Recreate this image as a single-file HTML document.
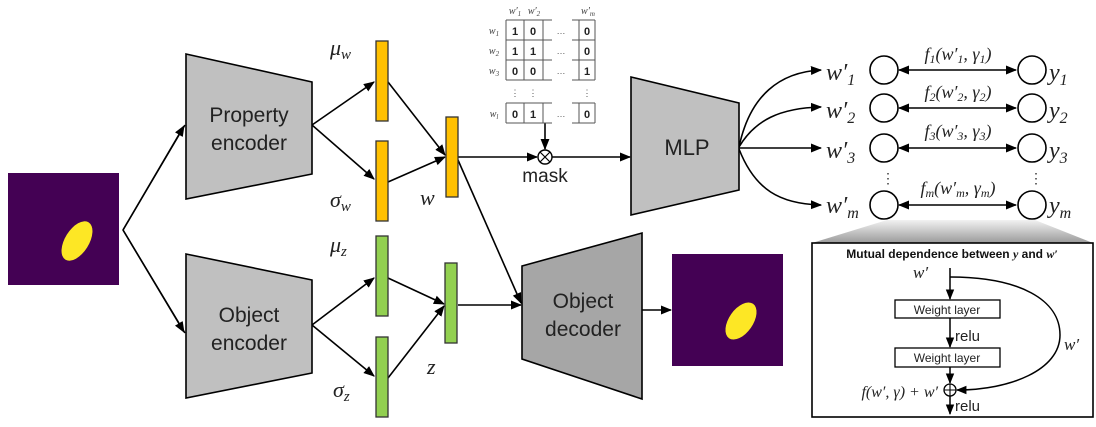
<!DOCTYPE html>
<html><head><meta charset="utf-8"><style>
html,body{margin:0;padding:0;background:#fff;}
svg{display:block;}
.s{font-family:"Liberation Sans",sans-serif;}
.m{font-family:"Liberation Serif",serif;font-style:italic;}
</style></head><body>
<svg width="1096" height="427" viewBox="0 0 1096 427" xmlns="http://www.w3.org/2000/svg">
<defs>
<marker id="a" viewBox="0 0 10 10" refX="9" refY="5" markerWidth="7" markerHeight="7" orient="auto-start-reverse"><path d="M0,1 L10,5 L0,9 z" fill="#000"/></marker>
<linearGradient id="g" x1="0" y1="0" x2="0" y2="1"><stop offset="0" stop-color="#f2f2f2"/><stop offset="1" stop-color="#9a9a9a"/></linearGradient>
</defs>
<g stroke="#000" stroke-width="1.6" fill="none">
<!-- input image arrows -->
<polyline points="185,125 123,230 185,333" stroke-width="1.4"/>
<line x1="123" y1="230" x2="184" y2="126" marker-end="url(#a)"/>
<line x1="123" y1="230" x2="184" y2="332" marker-end="url(#a)"/>
<!-- encoders to bars -->
<line x1="312" y1="125" x2="374" y2="82" marker-end="url(#a)"/>
<line x1="312" y1="125" x2="374" y2="179" marker-end="url(#a)"/>
<line x1="388" y1="82" x2="445" y2="155" marker-end="url(#a)"/>
<line x1="388" y1="182" x2="445" y2="157" marker-end="url(#a)"/>
<line x1="312" y1="325" x2="374" y2="278" marker-end="url(#a)"/>
<line x1="312" y1="325" x2="374" y2="376" marker-end="url(#a)"/>
<line x1="388" y1="278" x2="444" y2="304" marker-end="url(#a)"/>
<line x1="388" y1="378" x2="444" y2="306" marker-end="url(#a)"/>
<!-- w to mask, mlp -->
<line x1="458" y1="157" x2="537" y2="157" marker-end="url(#a)"/>
<line x1="552" y1="157" x2="630" y2="157" marker-end="url(#a)"/>
<line x1="545" y1="123" x2="545" y2="149" marker-end="url(#a)"/>
<line x1="458" y1="160" x2="521" y2="303" marker-end="url(#a)"/>
<line x1="458" y1="305" x2="521" y2="305" marker-end="url(#a)"/>
<line x1="642" y1="310" x2="671" y2="310" marker-end="url(#a)"/>
<!-- MLP curves -->
<path d="M739,147 C750,95 780,72 821,70" marker-end="url(#a)"/>
<path d="M739,147 C755,120 780,108 821,107" marker-end="url(#a)"/>
<line x1="739" y1="148" x2="821" y2="148" marker-end="url(#a)"/>
<path d="M739,149 C755,190 780,204 821,205" marker-end="url(#a)"/>
<!-- double arrows -->
<line x1="899" y1="70" x2="1016" y2="70" marker-start="url(#a)" marker-end="url(#a)"/>
<line x1="899" y1="108" x2="1016" y2="108" marker-start="url(#a)" marker-end="url(#a)"/>
<line x1="899" y1="148" x2="1016" y2="148" marker-start="url(#a)" marker-end="url(#a)"/>
<line x1="899" y1="205" x2="1016" y2="205" marker-start="url(#a)" marker-end="url(#a)"/>
</g>
<!-- input image -->
<rect x="8" y="173" width="111" height="112" fill="#440154"/>
<ellipse cx="77" cy="241" rx="22" ry="12" transform="rotate(-58 77 241)" fill="#fde725"/>
<!-- encoders -->
<polygon points="186,54 312,82 312,174 186,199" fill="#c0c0c0" stroke="#000" stroke-width="1.6"/>
<text x="249" y="122" class="s" font-size="21" text-anchor="middle" fill="#222">Property</text>
<text x="249" y="150" class="s" font-size="21" text-anchor="middle" fill="#222">encoder</text>
<polygon points="186,254 312,280 312,373 186,398" fill="#c0c0c0" stroke="#000" stroke-width="1.6"/>
<text x="249" y="322" class="s" font-size="21" text-anchor="middle" fill="#222">Object</text>
<text x="249" y="350" class="s" font-size="21" text-anchor="middle" fill="#222">encoder</text>
<!-- bars -->
<g stroke="#333" stroke-width="1.3">
<rect x="376" y="41" width="12" height="80" fill="#ffc000"/>
<rect x="376" y="141" width="12" height="80" fill="#ffc000"/>
<rect x="446" y="117" width="12" height="80" fill="#ffc000"/>
<rect x="376" y="236" width="12" height="80" fill="#92d050"/>
<rect x="376" y="337" width="12" height="80" fill="#92d050"/>
<rect x="445" y="263" width="12" height="80" fill="#92d050"/>
</g>
<g class="m" font-size="22" fill="#222">
<text x="330" y="55">μ<tspan font-size="15" dy="4">w</tspan></text>
<text x="330" y="207">σ<tspan font-size="15" dy="4">w</tspan></text>
<text x="420" y="205">w</text>
<text x="330" y="252">μ<tspan font-size="15" dy="4">z</tspan></text>
<text x="333" y="397">σ<tspan font-size="15" dy="4">z</tspan></text>
<text x="427" y="374">z</text>
</g>
<!-- matrix -->
<g stroke="#555" stroke-width="1" fill="none">
<path d="M506,20 H552 M572,20 H595 M506,40 H552 M572,40 H595 M506,60 H552 M572,60 H595 M506,80 H552 M572,80 H595"/>
<path d="M506,20 V80 M524,20 V80 M543,20 V80 M579,20 V80 M595,20 V80"/>
<path d="M506,103 H552 M572,103 H595 M506,123 H552 M572,123 H595 M506,103 V123 M524,103 V123 M543,103 V123 M579,103 V123 M595,103 V123"/>
</g>
<g class="s" font-size="11" font-weight="bold" fill="#222" text-anchor="middle">
<text x="515" y="35">1</text><text x="533" y="35">0</text><text x="587" y="35">0</text>
<text x="515" y="55">1</text><text x="533" y="55">1</text><text x="587" y="55">0</text>
<text x="515" y="75">0</text><text x="533" y="75">0</text><text x="587" y="75">1</text>
<text x="515" y="118">0</text><text x="533" y="118">1</text><text x="587" y="118">0</text>
</g>
<g class="s" font-size="9" fill="#555" text-anchor="middle">
<text x="561" y="34">…</text><text x="561" y="54">…</text><text x="561" y="74">…</text><text x="561" y="117">…</text>
<text x="515" y="96">⋮</text><text x="533" y="96">⋮</text><text x="587" y="96">⋮</text>
</g>
<g class="m" font-size="10" fill="#444" text-anchor="middle">
<text x="515" y="14">w′<tspan font-size="7" dy="2">1</tspan></text>
<text x="534" y="14">w′<tspan font-size="7" dy="2">2</tspan></text>
<text x="588" y="14">w′<tspan font-size="7" dy="2">m</tspan></text>
<text x="494" y="34">w<tspan font-size="7" dy="2">1</tspan></text>
<text x="494" y="54">w<tspan font-size="7" dy="2">2</tspan></text>
<text x="494" y="74">w<tspan font-size="7" dy="2">3</tspan></text>
<text x="494" y="117">w<tspan font-size="7" dy="2">l</tspan></text>
</g>
<circle cx="545" cy="157" r="7" fill="#fff" stroke="#000" stroke-width="1.4"/>
<path d="M540,152 L550,162 M550,152 L540,162" stroke="#000" stroke-width="1.2"/>
<text x="545" y="182" class="s" font-size="19" text-anchor="middle" fill="#222">mask</text>
<!-- MLP -->
<polygon points="631,77 739,103 739,190 631,215" fill="#c0c0c0" stroke="#000" stroke-width="1.6"/>
<text x="687" y="155" class="s" font-size="22" text-anchor="middle" fill="#222">MLP</text>
<!-- decoder -->
<polygon points="522,266 642,233 642,399 522,359" fill="#a6a6a6" stroke="#000" stroke-width="1.6"/>
<text x="583" y="308" class="s" font-size="21" text-anchor="middle" fill="#222">Object</text>
<text x="583" y="336" class="s" font-size="21" text-anchor="middle" fill="#222">decoder</text>
<!-- output image -->
<rect x="672" y="254" width="111" height="112" fill="#440154"/>
<ellipse cx="741" cy="321" rx="21" ry="12" transform="rotate(-55 741 321)" fill="#fde725"/>
<!-- circles -->
<g fill="#fff" stroke="#000" stroke-width="1.6">
<circle cx="884" cy="70" r="14"/><circle cx="884" cy="108" r="14"/><circle cx="884" cy="148" r="14"/><circle cx="884" cy="205" r="14"/>
<circle cx="1032" cy="70" r="14"/><circle cx="1032" cy="108" r="14"/><circle cx="1032" cy="148" r="14"/><circle cx="1032" cy="205" r="14"/>
</g>
<g class="m" font-size="24" fill="#222">
<text x="826" y="80">w′<tspan font-size="16" dy="5">1</tspan></text>
<text x="826" y="118">w′<tspan font-size="16" dy="5">2</tspan></text>
<text x="826" y="158">w′<tspan font-size="16" dy="5">3</tspan></text>
<text x="826" y="213">w′<tspan font-size="16" dy="5">m</tspan></text>
<text x="1049" y="80">y<tspan font-size="16" dy="5">1</tspan></text>
<text x="1049" y="118">y<tspan font-size="16" dy="5">2</tspan></text>
<text x="1049" y="158">y<tspan font-size="16" dy="5">3</tspan></text>
<text x="1049" y="213">y<tspan font-size="16" dy="5">m</tspan></text>
</g>
<g class="m" font-size="18" fill="#222" text-anchor="middle">
<text x="958" y="60">f<tspan font-size="12" dy="3">1</tspan><tspan dy="-3">(w′</tspan><tspan font-size="12" dy="3">1</tspan><tspan dy="-3">, γ</tspan><tspan font-size="12" dy="3">1</tspan><tspan dy="-3">)</tspan></text>
<text x="958" y="98">f<tspan font-size="12" dy="3">2</tspan><tspan dy="-3">(w′</tspan><tspan font-size="12" dy="3">2</tspan><tspan dy="-3">, γ</tspan><tspan font-size="12" dy="3">2</tspan><tspan dy="-3">)</tspan></text>
<text x="958" y="137">f<tspan font-size="12" dy="3">3</tspan><tspan dy="-3">(w′</tspan><tspan font-size="12" dy="3">3</tspan><tspan dy="-3">, γ</tspan><tspan font-size="12" dy="3">3</tspan><tspan dy="-3">)</tspan></text>
<text x="958" y="194">f<tspan font-size="12" dy="3">m</tspan><tspan dy="-3">(w′</tspan><tspan font-size="12" dy="3">m</tspan><tspan dy="-3">, γ</tspan><tspan font-size="12" dy="3">m</tspan><tspan dy="-3">)</tspan></text>
</g>
<g class="s" font-size="14" fill="#333" text-anchor="middle"><text x="888" y="183">⋮</text><text x="1036" y="183">⋮</text></g>
<!-- zoom box -->
<polygon points="887,220 1035,220 1093,243 812,243" fill="url(#g)"/>
<rect x="812" y="243" width="281" height="174" fill="#fff" stroke="#000" stroke-width="1.6"/>
<text x="952" y="258" class="s" font-size="12" font-weight="bold" text-anchor="middle" fill="#111">Mutual dependence between <tspan class="m" font-family="Liberation Serif">y</tspan> and <tspan font-family="Liberation Serif" font-style="italic">w′</tspan></text>
<text x="913" y="278" class="m" font-size="17" fill="#222">w′</text>
<g stroke="#000" stroke-width="1.5" fill="none">
<line x1="950" y1="268" x2="950" y2="299" marker-end="url(#a)"/>
<line x1="950" y1="318" x2="950" y2="347" marker-end="url(#a)"/>
<line x1="950" y1="367" x2="950" y2="383" marker-end="url(#a)"/>
<line x1="950" y1="396" x2="950" y2="414" marker-end="url(#a)"/>
<path d="M950,277 C1020,277 1060,300 1060,335 C1060,370 1010,390 957,390" marker-end="url(#a)"/>
</g>
<rect x="895" y="300" width="105" height="18" fill="#fff" stroke="#000" stroke-width="1.3"/>
<rect x="895" y="348" width="105" height="19" fill="#fff" stroke="#000" stroke-width="1.3"/>
<text x="947" y="314" class="s" font-size="12" text-anchor="middle" fill="#222">Weight layer</text>
<text x="947" y="362" class="s" font-size="12" text-anchor="middle" fill="#222">Weight layer</text>
<text x="955" y="341" class="s" font-size="15" fill="#222">relu</text>
<text x="955" y="411" class="s" font-size="15" fill="#222">relu</text>
<circle cx="950" cy="390" r="6" fill="#fff" stroke="#000" stroke-width="1.3"/>
<path d="M944,390 H956 M950,384 V396" stroke="#000" stroke-width="1.1"/>
<text x="1064" y="350" class="m" font-size="17" fill="#222">w′</text>
<text x="938" y="397" class="m" font-size="16" text-anchor="end" fill="#222">f(w′, γ) + w′</text>
</svg>
</body></html>
